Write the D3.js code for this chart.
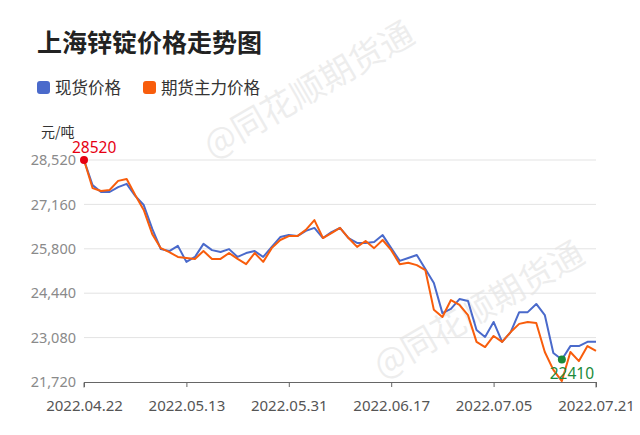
<!DOCTYPE html>
<html><head><meta charset="utf-8">
<script src="https://cdn.jsdelivr.net/npm/d3@7"></script>
<style>html,body{margin:0;padding:0;background:#fff;}svg{display:block;font-family:"Noto Sans CJK SC","Noto Sans",sans-serif;}</style>
</head><body><svg id="c" width="640" height="435"></svg>
<script>
const dates = ["2022.04.22","2022.04.25","2022.04.26","2022.04.27","2022.04.28","2022.04.29","2022.05.05","2022.05.06","2022.05.09","2022.05.10","2022.05.11","2022.05.12","2022.05.13","2022.05.16","2022.05.17","2022.05.18","2022.05.19","2022.05.20","2022.05.23","2022.05.24","2022.05.25","2022.05.26","2022.05.27","2022.05.30","2022.05.31","2022.06.01","2022.06.02","2022.06.06","2022.06.07","2022.06.08","2022.06.09","2022.06.10","2022.06.13","2022.06.14","2022.06.15","2022.06.16","2022.06.17","2022.06.20","2022.06.21","2022.06.22","2022.06.23","2022.06.24","2022.06.27","2022.06.28","2022.06.29","2022.06.30","2022.07.01","2022.07.04","2022.07.05","2022.07.06","2022.07.07","2022.07.08","2022.07.11","2022.07.12","2022.07.13","2022.07.14","2022.07.15","2022.07.18","2022.07.19","2022.07.20","2022.07.21"];
const spot = [28520,27750,27540,27540,27690,27790,27420,27140,26410,25790,25730,25890,25400,25550,25950,25760,25700,25790,25550,25670,25730,25550,25860,26160,26220,26190,26350,26440,26130,26310,26440,26130,25980,25980,26010,26220,25820,25430,25520,25610,25180,24750,23830,23960,24260,24200,23310,23100,23560,22950,23250,23860,23860,24110,23770,22610,22410,22820,22820,22950,22950];
const futures = [28520,27660,27570,27600,27880,27940,27450,26990,26250,25820,25700,25550,25520,25490,25730,25490,25490,25670,25490,25330,25670,25400,25820,26070,26190,26190,26380,26680,26130,26280,26440,26130,25860,26040,25820,26070,25760,25330,25370,25300,25150,23930,23710,24230,24080,23770,22950,22790,23130,22950,23250,23500,23560,23530,22640,22090,21750,22640,22360,22820,22670];
const yTicks = [21720,23080,24440,25800,27160,28520];
const xTickLabels = ["2022.04.22","2022.05.13","2022.05.31","2022.06.17","2022.07.05","2022.07.21"];
const seriesNames = ["现货价格","期货主力价格"];
const colors = ["#4a6acb","#f85d0c"];

(function(){
const svg = d3.select("#c");
const mL = 84, mR = 596, mT = 160, mB = 382;
const x = d3.scalePoint().domain(dates).range([mL, mR]);
const y = d3.scaleLinear().domain([21720, 28520]).range([mB, mT]);

// watermark
[[310,92],[480,312]].forEach(([cx,cy])=>{
  svg.append("text").attr("transform",`translate(${cx},${cy}) rotate(-30)`)
    .attr("text-anchor","middle").attr("dominant-baseline","middle")
    .attr("font-size",34).attr("fill","#000").attr("opacity",0.065)
    .text("@同花顺期货通");
});

// title
svg.append("text").attr("x",37).attr("y",52).attr("font-size",25).attr("font-weight","bold")
  .attr("fill","#222").text("上海锌锭价格走势图");

// legend
const lg = svg.append("g");
const lx = [37,143];
seriesNames.forEach((n,i)=>{
  lg.append("rect").attr("x",lx[i]).attr("y",81).attr("width",13).attr("height",13).attr("rx",3).attr("fill",colors[i]);
  lg.append("text").attr("x",lx[i]+18).attr("y",94).attr("font-size",16.5).attr("fill","#333").text(n);
});

// unit
svg.append("text").attr("x",41).attr("y",137).attr("font-size",14).attr("fill","#333").text("元/吨");

// grid
svg.append("g").selectAll("line").data(yTicks.slice(1)).join("line")
  .attr("x1",mL).attr("x2",mR).attr("y1",d=>y(d)).attr("y2",d=>y(d))
  .attr("stroke","#e3e3e3").attr("stroke-width",1);

// y axis labels
const ya = svg.append("g").attr("transform",`translate(${mL},0)`)
  .call(d3.axisLeft(y).tickValues(yTicks).tickFormat(d3.format(",")).tickSize(0).tickPadding(8));
ya.select(".domain").remove();
ya.selectAll("text").attr("font-size",14.5).attr("fill","#8a8a8a").attr("font-family","'Noto Sans',sans-serif");

// x axis
const xa = svg.append("g").attr("transform",`translate(0,${mB})`)
  .call(d3.axisBottom(x).tickValues(xTickLabels).tickSize(5).tickPadding(13));
xa.select(".domain").attr("stroke","#666").attr("d",`M${mL},5.5V0.5H${mR}V5.5`);
xa.selectAll(".tick line").attr("stroke","#666");
xa.selectAll("text").attr("font-size",15).attr("fill","#555").attr("font-family","'Noto Sans',sans-serif");

// lines
const line = d3.line().x((d,i)=>x(dates[i])).y(d=>y(d));
[spot,futures].forEach((s,i)=>{
  svg.append("path").datum(s).attr("d",line).attr("fill","none")
    .attr("stroke",colors[i]).attr("stroke-width",2).attr("stroke-linejoin","round");
});

// max marker
const maxI = d3.maxIndex(spot);
svg.append("circle").attr("cx",x(dates[maxI])).attr("cy",y(spot[maxI])).attr("r",4).attr("fill","#e60012");
svg.append("text").attr("x",x(dates[maxI])-12).attr("y",y(spot[maxI])-7).attr("font-size",15.5).attr("fill","#e60012")
  .attr("font-family","'Noto Sans',sans-serif").text(spot[maxI]);

// min marker
const minI = d3.minIndex(spot);
svg.append("circle").attr("cx",x(dates[minI])).attr("cy",y(spot[minI])).attr("r",4).attr("fill","#1a8a3a");
svg.append("text").attr("x",x(dates[minI])+10).attr("y",y(spot[minI])+20).attr("text-anchor","middle").attr("font-size",15.5).attr("fill","#1a8a3a")
  .attr("font-family","'Noto Sans',sans-serif").text(spot[minI]);
})();
</script></body></html>
